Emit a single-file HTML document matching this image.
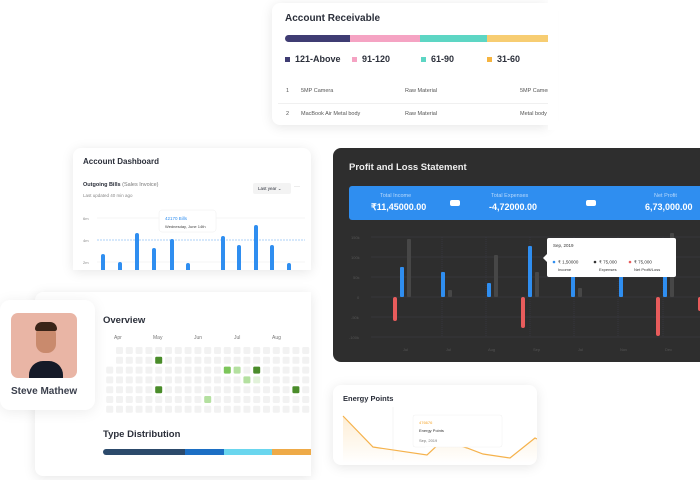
<!DOCTYPE html>
<html><head><meta charset="utf-8"><style>
*{margin:0;padding:0;box-sizing:border-box}
body{width:700px;height:480px;background:#fff;position:relative;overflow:hidden;font-family:"Liberation Sans",sans-serif;color:#2b2f3a}
.card{position:absolute;background:#fff;border-radius:8px;box-shadow:0 2px 12px rgba(0,0,0,0.10)}
.t{position:absolute;white-space:nowrap}
</style></head><body>

<!-- Account Receivable -->
<div class="card" style="left:272px;top:3px;width:276px;height:122px;border-radius:8px 0 0 8px"></div>
<div class="t" style="left:285px;top:13px;font-size:10px;font-weight:bold">Account Receivable</div>
<div style="position:absolute;left:285px;top:35px;width:263px;height:7px;border-radius:4px 0 0 4px;overflow:hidden;display:flex">
<div style="width:65px;background:#3f3c73"></div><div style="width:70px;background:#f5a3c3"></div><div style="width:67px;background:#5dd6c4"></div><div style="flex:1;background:#f7cd72"></div></div>
<div class="t" style="left:285px;top:54px;font-size:9px;font-weight:bold"><span style="display:inline-block;width:5px;height:5px;background:#3f3c73;margin-right:5px"></span>121-Above</div>
<div class="t" style="left:352px;top:54px;font-size:9px;font-weight:bold"><span style="display:inline-block;width:5px;height:5px;background:#f5a3c3;margin-right:5px"></span>91-120</div>
<div class="t" style="left:421px;top:54px;font-size:9px;font-weight:bold"><span style="display:inline-block;width:5px;height:5px;background:#5dd6c4;margin-right:5px"></span>61-90</div>
<div class="t" style="left:487px;top:54px;font-size:9px;font-weight:bold"><span style="display:inline-block;width:5px;height:5px;background:#f5b440;margin-right:5px"></span>31-60</div>
<div class="t" style="left:286px;top:88px;font-size:5.5px;color:#555">1</div>
<div class="t" style="left:301px;top:88px;font-size:5.5px;color:#555">5MP Camera</div>
<div class="t" style="left:405px;top:88px;font-size:5.5px;color:#555">Raw Material</div>
<div class="t" style="left:520px;top:88px;font-size:5.5px;color:#555">5MP Camera</div>
<div style="position:absolute;left:278px;top:103px;width:270px;height:1px;background:#f0f0f0"></div>
<div class="t" style="left:286px;top:111px;font-size:5.5px;color:#555">2</div>
<div class="t" style="left:301px;top:111px;font-size:5.5px;color:#555">MacBook Air Metal body</div>
<div class="t" style="left:405px;top:111px;font-size:5.5px;color:#555">Raw Material</div>
<div class="t" style="left:520px;top:111px;font-size:5.5px;color:#555">Metal body</div>
<div style="position:absolute;left:548px;top:0;width:10px;height:130px;background:#fff"></div>

<!-- Account Dashboard -->
<div class="card" style="left:73px;top:148px;width:238px;height:122px;border-radius:8px 8px 0 0"></div>
<div class="t" style="left:83px;top:157px;font-size:8px;font-weight:bold">Account Dashboard</div>
<div class="t" style="left:83px;top:182px;font-size:5.5px;font-weight:bold">Outgoing Bills <span style="font-weight:normal;color:#777">(Sales Invoice)</span></div>
<div class="t" style="left:83px;top:193px;font-size:4.5px;color:#888">Last updated 40 min ago</div>
<div style="position:absolute;left:253px;top:183px;width:38px;height:11px;background:#f3f3f3;border-radius:2px;font-size:4.5px;padding:3px 5px">Last year &#8964;</div>
<div class="t" style="left:294px;top:184px;font-size:6px;color:#999">···</div>
<svg style="position:absolute;left:73px;top:148px" width="238" height="122">
<g font-size="4" fill="#888" font-family="Liberation Sans"><text x="10" y="72">6m</text><text x="10" y="94">4m</text><text x="10" y="116">2m</text></g>
<line x1="24" y1="70" x2="232" y2="70" stroke="#eee" stroke-width=".6"/>
<line x1="24" y1="92" x2="232" y2="92" stroke="#5aa5f0" stroke-width=".6" stroke-dasharray="2,1"/>
<line x1="24" y1="114" x2="232" y2="114" stroke="#eee" stroke-width=".6"/>
<g fill="#2f8ef0">
<rect x="28" y="106" width="4" height="20" rx="2"/><rect x="45" y="114" width="4" height="12" rx="2"/><rect x="62" y="85" width="4" height="40" rx="2"/><rect x="79" y="100" width="4" height="26" rx="2"/><rect x="97" y="91" width="4" height="35" rx="2"/><rect x="113" y="115" width="4" height="11" rx="2"/><rect x="148" y="88" width="4" height="38" rx="2"/><rect x="164" y="97" width="4" height="29" rx="2"/><rect x="181" y="77" width="4" height="49" rx="2"/><rect x="197" y="97" width="4" height="29" rx="2"/><rect x="214" y="115" width="4" height="11" rx="2"/></g>
<rect x="86" y="62" width="57" height="22" rx="3" fill="#fff" stroke="#eee" stroke-width=".5"/>
<text x="92" y="72" font-size="4.5" fill="#2f8ef0" font-family="Liberation Sans">42170 Bills</text>
<text x="92" y="80" font-size="4" fill="#444" font-family="Liberation Sans">Wednesday, June 14th</text>
</svg>

<!-- Dark P&L -->
<div style="position:absolute;left:333px;top:148px;width:380px;height:214px;background:#2e2e2e;border-radius:8px"></div>
<div class="t" style="left:349px;top:162px;font-size:9.5px;font-weight:bold;color:#eee">Profit and Loss Statement</div>
<div style="position:absolute;left:349px;top:186px;width:351px;height:34px;background:#2f8ef0;border-radius:3px 0 0 3px"></div>
<div class="t" style="left:380px;top:193px;font-size:5.5px;color:#b9dafc">Total Income</div>
<div class="t" style="left:371px;top:202px;font-size:9px;color:#fff;font-weight:bold">₹11,45000.00</div>
<div class="t" style="left:491px;top:193px;font-size:5.5px;color:#b9dafc">Total Expenses</div>
<div class="t" style="left:489px;top:202px;font-size:9px;color:#fff;font-weight:bold">-4,72000.00</div>
<div class="t" style="left:654px;top:193px;font-size:5.5px;color:#b9dafc">Net Profit</div>
<div class="t" style="left:645px;top:202px;font-size:9px;color:#fff;font-weight:bold">6,73,000.00</div>
<div style="position:absolute;left:450px;top:200px;width:10px;height:6px;background:#fff;border-radius:2px"></div>
<div style="position:absolute;left:586px;top:200px;width:10px;height:6px;background:#fff;border-radius:2px"></div>
<svg style="position:absolute;left:333px;top:148px" width="367" height="214">
<g stroke="#3c3c48" stroke-width=".6"><line x1="38" y1="89" x2="367" y2="89"/><line x1="38" y1="109" x2="367" y2="109"/><line x1="38" y1="129" x2="367" y2="129"/><line x1="38" y1="149" x2="367" y2="149"/><line x1="38" y1="169" x2="367" y2="169"/><line x1="38" y1="189" x2="367" y2="189"/></g>
<g stroke="#3c3c48" stroke-width=".6" stroke-dasharray="1,1"><line x1="109" y1="89" x2="109" y2="189"/><line x1="153" y1="89" x2="153" y2="189"/><line x1="197" y1="89" x2="197" y2="189"/><line x1="241" y1="89" x2="241" y2="189"/><line x1="285" y1="89" x2="285" y2="189"/><line x1="330" y1="89" x2="330" y2="189"/></g>
<g font-size="4" fill="#555" font-family="Liberation Sans"><text x="18" y="91">150k</text><text x="18" y="111">100k</text><text x="20" y="131">50k</text><text x="24" y="151">0</text><text x="18" y="171">-50k</text><text x="16" y="191">-100k</text>
<text x="70" y="203">Jul</text><text x="113" y="203">Jul</text><text x="155" y="203">Aug</text><text x="200" y="203">Sep</text><text x="245" y="203">Jul</text><text x="287" y="203">Nov</text><text x="332" y="203">Dec</text></g>
<g fill="#e85c5c"><rect x="60" y="149" width="4" height="24" rx="2"/><rect x="188" y="149" width="4" height="31" rx="2"/><rect x="323" y="149" width="4" height="39" rx="2"/><rect x="365" y="149" width="4" height="14" rx="2"/></g>
<g fill="#2f8ef0"><rect x="67" y="119" width="4" height="30" rx="1"/><rect x="108" y="124" width="4" height="25" rx="1"/><rect x="154" y="135" width="4" height="14" rx="1"/><rect x="195" y="98" width="4" height="51" rx="1"/><rect x="238" y="125" width="4" height="24" rx="1"/><rect x="286" y="125" width="4" height="24" rx="1"/><rect x="330" y="125" width="4" height="24" rx="1"/></g>
<g fill="#474747"><rect x="74" y="91" width="4" height="58" rx="1"/><rect x="115" y="142" width="4" height="7" rx="1"/><rect x="161" y="107" width="4" height="42" rx="1"/><rect x="202" y="124" width="4" height="25" rx="1"/><rect x="245" y="140" width="4" height="9" rx="1"/><rect x="337" y="85" width="4" height="64" rx="1"/></g>
<rect x="214" y="90" width="129" height="39" rx="2" fill="#fff"/>
<polygon points="214,106 210,110 214,114" fill="#fff"/>
<g font-family="Liberation Sans" font-size="4.5" fill="#333"><text x="220" y="99">Sep, 2019</text>
<circle cx="221" cy="114" r="1.3" fill="#2f8ef0"/><text x="225" y="115.5">₹ 1,50000</text><text x="225" y="123" font-size="4">Income</text>
<circle cx="262" cy="114" r="1.3" fill="#333"/><text x="266" y="115.5">₹ 75,000</text><text x="266" y="123" font-size="4">Expenses</text>
<circle cx="297" cy="114" r="1.3" fill="#e85c5c"/><text x="301" y="115.5">₹ 75,000</text><text x="301" y="123" font-size="4">Net Profit/Loss</text></g>
</svg>

<!-- Overview card -->
<div class="card" style="left:35px;top:292px;width:276px;height:184px;border-radius:8px 0 0 8px"></div>
<div style="position:absolute;left:0;top:300px;width:95px;height:110px;background:#fff;border-radius:10px;box-shadow:0 2px 14px rgba(0,0,0,0.08)"></div>
<div style="position:absolute;left:11px;top:313px;width:66px;height:65px;background:#e9b5a5;border-radius:7px;overflow:hidden">
<div style="position:absolute;left:18px;top:48px;width:34px;height:25px;background:#151a28;border-radius:14px 14px 0 0"></div>
<div style="position:absolute;left:25px;top:12px;width:20px;height:28px;background:#c98a6d;border-radius:9px"></div>
<div style="position:absolute;left:24px;top:9px;width:22px;height:9px;background:#3a2418;border-radius:10px 10px 3px 3px"></div>
</div>
<div class="t" style="left:11px;top:386px;font-size:10px;font-weight:bold;color:#3a3f4c">Steve Mathew</div>
<div class="t" style="left:103px;top:315px;font-size:9.5px;font-weight:bold">Overview</div>
<div class="t" style="left:114px;top:335px;font-size:5px;color:#777">Apr</div>
<div class="t" style="left:153px;top:335px;font-size:5px;color:#777">May</div>
<div class="t" style="left:194px;top:335px;font-size:5px;color:#777">Jun</div>
<div class="t" style="left:234px;top:335px;font-size:5px;color:#777">Jul</div>
<div class="t" style="left:272px;top:335px;font-size:5px;color:#777">Aug</div>
<svg style="position:absolute;left:100px;top:345px" width="211" height="80" id="hm"></svg>
<div class="t" style="left:103px;top:429px;font-size:9.5px;font-weight:bold">Type Distribution</div>
<div style="position:absolute;left:103px;top:449px;width:208px;height:6px;border-radius:3px 0 0 3px;overflow:hidden;display:flex">
<div style="width:82px;background:#2c4a6b"></div><div style="width:39px;background:#1c6fc4"></div><div style="width:48px;background:#6ad6ee"></div><div style="flex:1;background:#eeaa48"></div></div>

<!-- Energy -->
<div class="card" style="left:333px;top:385px;width:204px;height:80px"></div>
<div class="t" style="left:343px;top:394px;font-size:7.5px;font-weight:bold">Energy Points</div>
<svg style="position:absolute;left:333px;top:385px" width="204" height="80">
<defs><linearGradient id="g" x1="0" y1="0" x2="0" y2="1"><stop offset="0" stop-color="#f7b955" stop-opacity=".25"/><stop offset="1" stop-color="#f7b955" stop-opacity="0"/></linearGradient></defs>
<line x1="60" y1="22" x2="60" y2="75" stroke="#f0f0f0" stroke-width=".6"/>
<path d="M10,31 L40,62 L94,70 L110,55 L134,63 L150,69 L177,73 L202,53 L204,53 L204,78 L10,78Z" fill="url(#g)"/>
<polyline points="10,31 40,62 94,70 110,55 134,63 150,69 177,73 202,53 204,54" fill="none" stroke="#f5b24c" stroke-width="1.2"/>
<rect x="80" y="30" width="89" height="32" rx="2" fill="#fff" stroke="#f0f0f0" stroke-width=".5"/>
<polygon points="92,62 96,66 100,62" fill="#fff"/>
<g font-family="Liberation Sans" font-size="4"><text x="86" y="39" fill="#f5a62c">476676</text><text x="86" y="47" fill="#333">Energy Points</text><text x="86" y="57" fill="#777">Sep, 2019</text></g>
</svg>

<script>
var s=document.getElementById('hm'),h='';
var green={"4,1":"#4a8c2a","11,2":"#7cc55a","12,2":"#b4e0a0","14,2":"#4a8c2a","13,3":"#b4e0a0","14,3":"#e2f2da","4,4":"#4a8c2a","18,4":"#4a8c2a","9,5":"#b4e0a0"};
for(var c=0;c<22;c++)for(var r=0;r<7;r++){if(c==0&&r<2)continue;var x=3+(c-0)*9.8-0,y=2+r*9.8;var k=(c-1)+","+r;var col=green[k]||"#f2f2f2";h+='<rect x="'+(x-9.8+13)+'" y="'+y+'" width="7" height="7" rx="1.2" fill="'+col+'"/>';}
s.innerHTML=h;
</script>
</body></html>
